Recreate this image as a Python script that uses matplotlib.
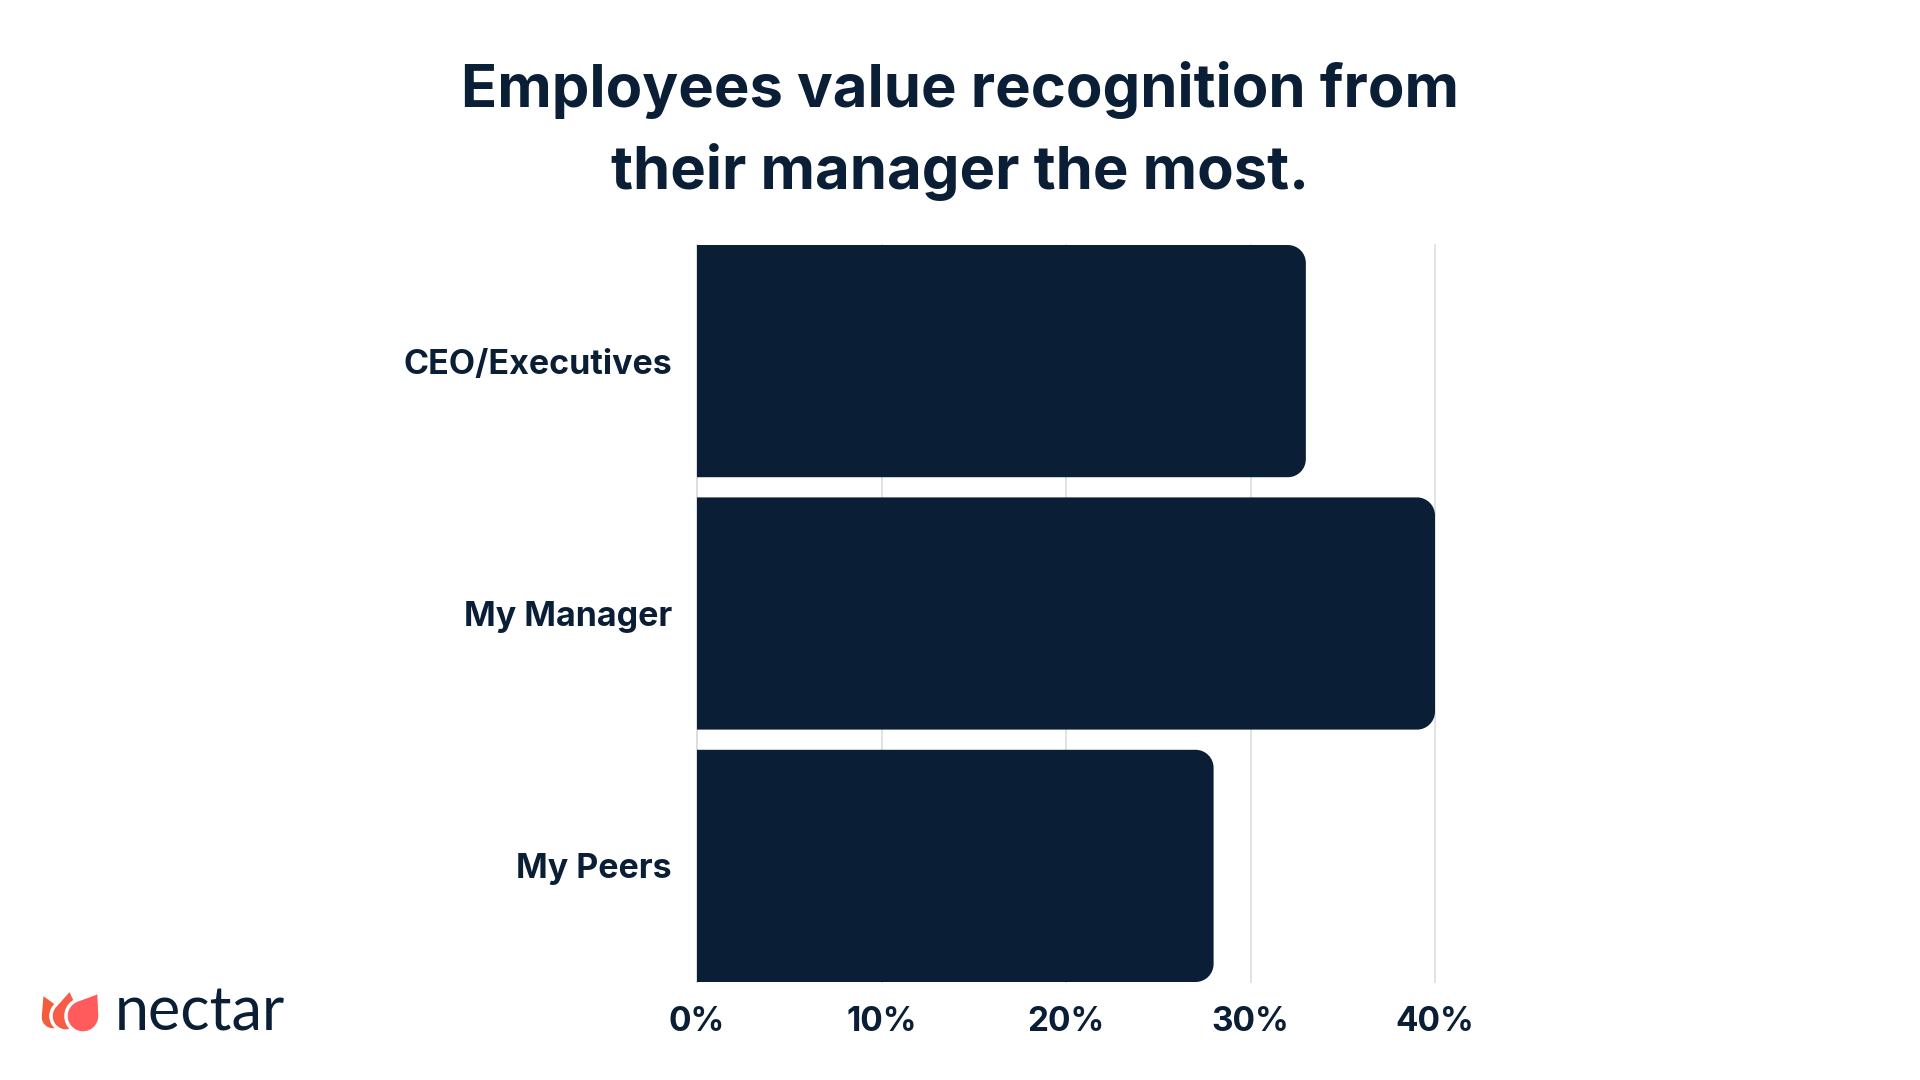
import numpy as np
import matplotlib
matplotlib.use("Agg")
import matplotlib.pyplot as plt
from matplotlib.path import Path
from matplotlib.patches import PathPatch, Polygon
from matplotlib.transforms import IdentityTransform

# data
categories = ["CEO/Executives", "My Manager", "My Peers"]
values = [33, 40, 28]
xticks = [0, 10, 20, 30, 40]
xtick_labels = ["0%", "10%", "20%", "30%", "40%"]
title = "Employees value recognition from\ntheir manager the most."

NAVY = "#0a1f36"
GRID = "#dcdde0"
W, H, DPI = 1920, 1080, 100

plt.rcParams["font.family"] = ["Inter", "DejaVu Sans"]

fig = plt.figure(figsize=(W / DPI, H / DPI), dpi=DPI)
fig.patch.set_facecolor("white")

ax = fig.add_axes([697 / W, 1 - 982 / H, (1435 - 697) / W, (982 - 245) / H])
ypos = np.arange(len(categories))
bars = ax.barh(ypos, values, height=0.92, color=NAVY)
ax.set_xlim(0, 40)
ax.set_ylim(len(categories) - 0.54, -0.46)

ax.set_xticks(xticks)
ax.set_xticklabels(xtick_labels, fontsize=24, fontweight="bold", color=NAVY)
ax.set_yticks(ypos)
ax.set_yticklabels(categories, fontsize=24.5, fontweight="bold", color=NAVY)
ax.tick_params(axis="both", length=0)
ax.tick_params(axis="x", pad=17)
ax.tick_params(axis="y", pad=18)

ax.grid(axis="x", color=GRID, linewidth=1.2, zorder=0)
ax.set_axisbelow(True)
for side in ["top", "right", "bottom"]:
    ax.spines[side].set_visible(False)
ax.spines["left"].set_color(GRID)
ax.spines["left"].set_linewidth(1.2)
for line in ax.get_xgridlines():
    line.set_clip_on(False)

# swap plain rectangles for ones with rounded right corners (radius in px)
fig.canvas.draw()
radius = 18
for rect in bars:
    x0, y0 = ax.transData.transform((rect.get_x(), rect.get_y()))
    x1, y1 = ax.transData.transform((rect.get_x() + rect.get_width(),
                                     rect.get_y() + rect.get_height()))
    lo, hi = min(y0, y1), max(y0, y1)
    k = 0.5523 * radius
    verts = [
        (x0, lo), (x1 - radius, lo),
        (x1 - radius + k, lo), (x1, lo + radius - k), (x1, lo + radius),
        (x1, hi - radius),
        (x1, hi - radius + k), (x1 - radius + k, hi), (x1 - radius, hi),
        (x0, hi), (x0, lo),
    ]
    codes = [Path.MOVETO, Path.LINETO,
             Path.CURVE4, Path.CURVE4, Path.CURVE4,
             Path.LINETO,
             Path.CURVE4, Path.CURVE4, Path.CURVE4,
             Path.LINETO, Path.CLOSEPOLY]
    patch = PathPatch(Path(verts, codes), facecolor=NAVY, edgecolor="none",
                      transform=IdentityTransform(), zorder=3)
    fig.add_artist(patch)
    rect.set_visible(False)

# overlay in pixel coords for title and logo
ov = fig.add_axes([0, 0, 1, 1], zorder=5)
ov.set_xlim(0, W)
ov.set_ylim(H, 0)
ov.axis("off")
ov.patch.set_alpha(0)

ov.text(960, 131, title, ha="center", va="center", fontsize=43,
        fontweight="bold", color=NAVY, linespacing=1.53)


def petal(cx, cy, r, tx, ty, color):
    d = np.hypot(tx - cx, ty - cy)
    theta = np.arctan2(ty - cy, tx - cx)
    alpha = np.arccos(r / d)
    angs = np.linspace(theta + alpha, theta - alpha + 2 * np.pi, 60)
    pts = [(tx, ty)] + [(cx + r * np.cos(a), cy + r * np.sin(a)) for a in angs]
    ov.add_patch(Polygon(pts, closed=True, facecolor=color,
                         edgecolor="white", linewidth=2.5, joinstyle="round"))


petal(53, 1017, 13, 42, 993, "#f45d3a")
petal(66, 1016, 15, 70, 989, "#f75c46")
petal(83, 1016, 17, 99, 992, "#ff5a5c")

ov.text(115, 1013, "nectar", ha="left", va="center", fontsize=44,
        fontfamily=["Lato", "DejaVu Sans"], fontweight="normal", color=NAVY)

fig.savefig("out.png", dpi=DPI, facecolor="white")
